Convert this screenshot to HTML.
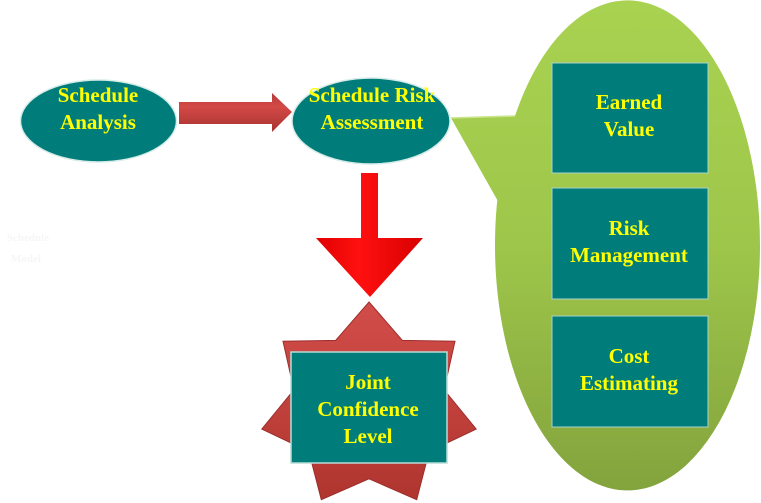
<!DOCTYPE html>
<html><head><meta charset="utf-8"><style>
html,body{margin:0;padding:0;background:#fff;width:761px;height:503px;overflow:hidden}
svg{display:block}
text{font-family:"Liberation Serif",serif;font-weight:bold;font-size:21px;fill:#ffff00;text-anchor:middle}
</style></head><body>
<svg width="761" height="503" viewBox="0 0 761 503" xmlns="http://www.w3.org/2000/svg">
<defs>
<linearGradient id="g" gradientUnits="userSpaceOnUse" x1="0" y1="0" x2="0" y2="491">
<stop offset="0" stop-color="#a9d251"/><stop offset="0.5" stop-color="#9ec64a"/><stop offset="1" stop-color="#83a33d"/>
</linearGradient>
<linearGradient id="ha" x1="0" y1="0" x2="0" y2="1">
<stop offset="0" stop-color="#b53a38"/><stop offset="0.35" stop-color="#d44a47"/><stop offset="1" stop-color="#a53230"/>
</linearGradient>
<linearGradient id="va" x1="0" y1="0" x2="1" y2="0">
<stop offset="0" stop-color="#e00000"/><stop offset="0.4" stop-color="#ff1010"/><stop offset="1" stop-color="#d80000"/>
</linearGradient>
<linearGradient id="st" x1="0" y1="0" x2="0" y2="1">
<stop offset="0" stop-color="#d24d4a"/><stop offset="1" stop-color="#b0352f"/>
</linearGradient>
</defs>

<!-- faint ghost text -->
<text x="28" y="241" style="font-size:11px;fill:#f6f6f6">Schedule</text>
<text x="26" y="262" style="font-size:11px;fill:#f6f6f6">Model</text>

<!-- green bubble -->
<path d="M451 118 L515 116 A132.5 245 0 1 1 497.3 200 Z" fill="url(#g)"/>
<polyline points="451,118 515,116" stroke="#c8e58a" stroke-width="1.5" fill="none"/>

<!-- boxes -->
<rect x="552" y="63" width="156" height="110" fill="#007d7a" stroke="#a8d4c8" stroke-width="1"/>
<rect x="552" y="188" width="156" height="111" fill="#007d7a" stroke="#a8d4c8" stroke-width="1"/>
<rect x="552" y="316" width="156" height="111" fill="#007d7a" stroke="#a8d4c8" stroke-width="1"/>
<text x="629" y="109">Earned</text>
<text x="629" y="136">Value</text>
<text x="629" y="235">Risk</text>
<text x="629" y="262">Management</text>
<text x="629" y="363">Cost</text>
<text x="629" y="390">Estimating</text>

<!-- ellipses -->
<ellipse cx="98.5" cy="121" rx="78" ry="41" fill="#007d7a" stroke="#d5ece8" stroke-width="1.5"/>
<text x="98" y="102">Schedule</text>
<text x="98" y="129">Analysis</text>
<ellipse cx="371" cy="121" rx="79" ry="43" fill="#007d7a" stroke="#d5ece8" stroke-width="1.5"/>
<text x="372" y="102">Schedule Risk</text>
<text x="372" y="129">Assessment</text>

<!-- horizontal arrow -->
<polygon points="179,102 272,102 272,93 292,112 272,132 272,124 179,124" fill="url(#ha)"/>

<!-- down arrow -->
<polygon points="361,173 378,173 378,238 423,238 370,297 316,238 361,238" fill="url(#va)"/>

<!-- star -->
<polygon points="369,302 402.4,340.4 455,341.2 444.1,389.8 476.2,429.1 429.2,451.4 416.7,499.7 369,478.8 321.3,499.7 308.8,451.4 261.8,429.1 293.9,389.8 283,341.2 335.6,340.4" fill="url(#st)" stroke="#9c2e2b" stroke-width="1"/>
<rect x="291" y="352" width="156" height="111" fill="#007d7a" stroke="#b8dcd6" stroke-width="1.5"/>
<text x="368" y="389">Joint</text>
<text x="368" y="416">Confidence</text>
<text x="368" y="443">Level</text>
</svg>
</body></html>
